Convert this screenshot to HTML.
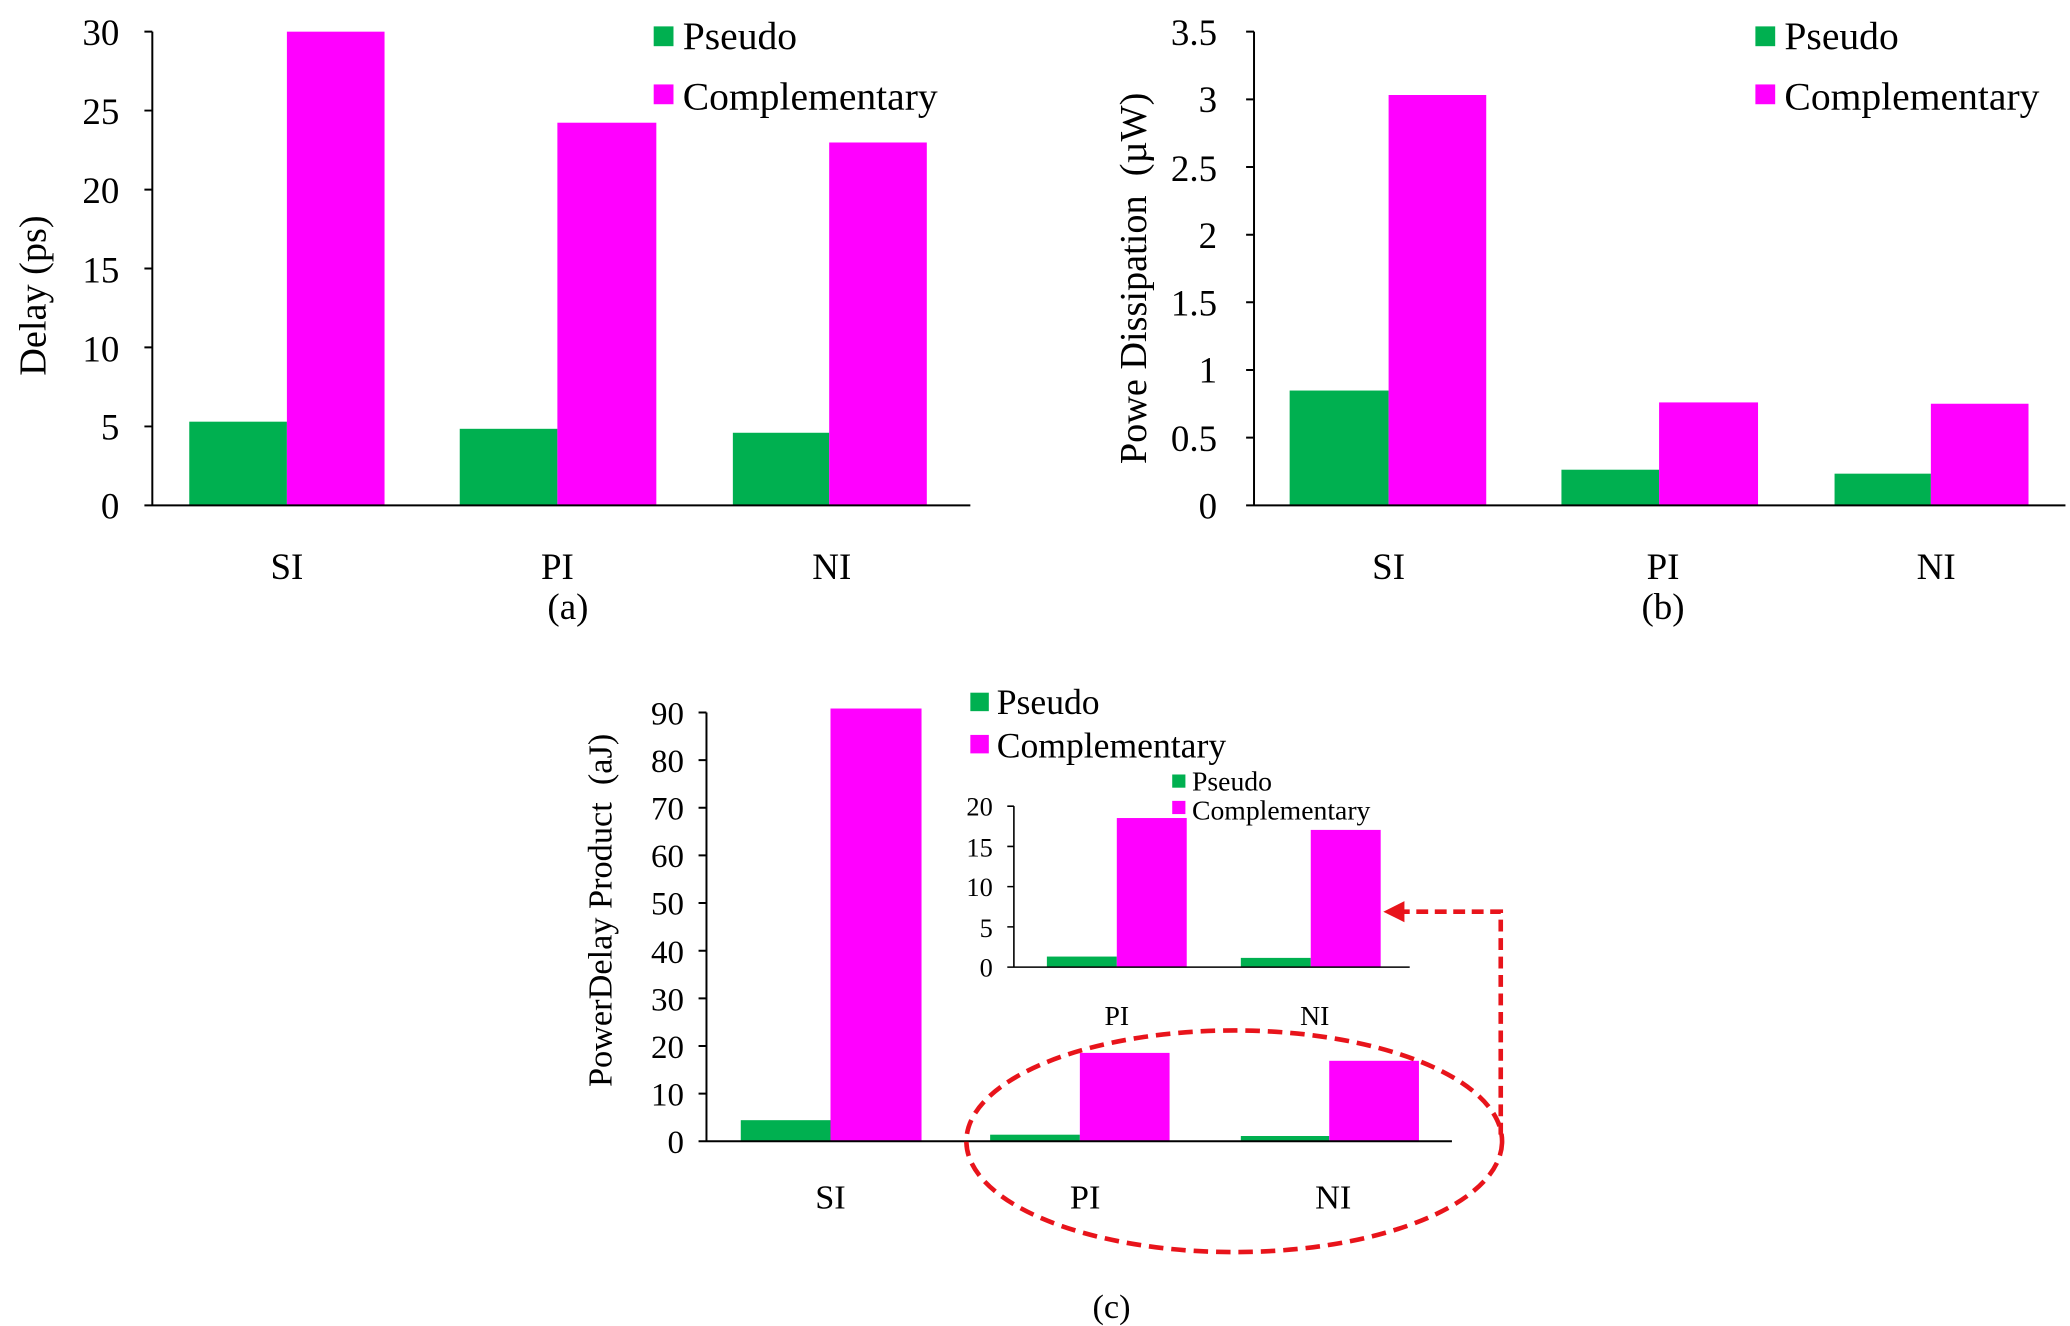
<!DOCTYPE html>
<html><head><meta charset="utf-8"><style>
html,body{margin:0;padding:0;background:#fff;width:2070px;height:1326px;overflow:hidden}
svg{display:block}
text{font-family:"Liberation Serif",serif;fill:#000}
</style></head><body>
<svg width="2070" height="1326" viewBox="0 0 1568 1005" xmlns="http://www.w3.org/2000/svg">
<!-- Chart a -->
<g>
<rect x="143" y="319.6" width="74" height="63.4" fill="#00b050"/>
<rect x="217" y="24" width="74" height="359" fill="#ff00ff"/>
<rect x="348" y="325" width="74" height="58" fill="#00b050"/>
<rect x="422" y="93" width="75" height="290" fill="#ff00ff"/>
<rect x="555" y="328" width="73" height="55" fill="#00b050"/>
<rect x="628" y="108" width="74" height="275" fill="#ff00ff"/>
<path d="M115 24V383H735M109 24H115M109 83.8H115M109 143.7H115M109 203.5H115M109 263.3H115M109 323.2H115M109 383H115" stroke="#000" stroke-width="1.5" fill="none"/>
<g font-size="28" text-anchor="end">
<text x="90" y="34">30</text><text x="90" y="94">25</text><text x="90" y="154">20</text><text x="90" y="214">15</text><text x="90" y="274">10</text><text x="90" y="333">5</text><text x="90" y="393">0</text></g>
<g font-size="28" text-anchor="middle"><text x="217" y="439">SI</text><text x="422" y="439">PI</text><text x="630" y="439">NI</text><text x="430" y="469">(a)</text></g>
<text font-size="29" text-anchor="middle" transform="translate(34,224) rotate(-90)">Delay (ps)</text>
<rect x="495" y="20" width="15" height="15" fill="#00b050"/><text x="517" y="37" font-size="30">Pseudo</text>
<rect x="495" y="64" width="15" height="15" fill="#ff00ff"/><text x="517" y="83" font-size="30">Complementary</text>
</g>
<!-- Chart b -->
<g>
<rect x="977" y="296" width="75" height="87" fill="#00b050"/>
<rect x="1052" y="72" width="74" height="311" fill="#ff00ff"/>
<rect x="1183" y="356" width="74" height="27" fill="#00b050"/>
<rect x="1257" y="305" width="75" height="78" fill="#ff00ff"/>
<rect x="1390" y="359" width="73" height="24" fill="#00b050"/>
<rect x="1463" y="306" width="74" height="77" fill="#ff00ff"/>
<path d="M950 24V383H1565M944 24H950M944 75.3H950M944 126.6H950M944 177.9H950M944 229.1H950M944 280.4H950M944 331.7H950M944 383H950" stroke="#000" stroke-width="1.5" fill="none"/>
<g font-size="28" text-anchor="end">
<text x="922" y="34">3.5</text><text x="922" y="85">3</text><text x="922" y="137">2.5</text><text x="922" y="188">2</text><text x="922" y="239">1.5</text><text x="922" y="290">1</text><text x="922" y="342">0.5</text><text x="922" y="393">0</text></g>
<g font-size="28" text-anchor="middle"><text x="1052" y="439">SI</text><text x="1260" y="439">PI</text><text x="1467" y="439">NI</text><text x="1260" y="469">(b)</text></g>
<text font-size="29" text-anchor="middle" transform="translate(868,211) rotate(-90)" xml:space="preserve">Powe Dissipation  (µW)</text>
<rect x="1330" y="20" width="15" height="15" fill="#00b050"/><text x="1352" y="37" font-size="30">Pseudo</text>
<rect x="1330" y="64" width="15" height="15" fill="#ff00ff"/><text x="1352" y="83" font-size="30">Complementary</text>
</g>
<!-- Chart c -->
<g>
<rect x="561" y="849" width="68" height="16" fill="#00b050"/>
<rect x="629" y="537" width="69" height="328" fill="#ff00ff"/>
<rect x="750" y="860" width="68" height="5" fill="#00b050"/>
<rect x="818" y="798" width="68" height="67" fill="#ff00ff"/>
<rect x="940" y="861" width="67" height="4" fill="#00b050"/>
<rect x="1007" y="804" width="68" height="61" fill="#ff00ff"/>
<path d="M535 540V865H1100M529 540H535M529 576.1H535M529 612.2H535M529 648.3H535M529 684.4H535M529 720.6H535M529 756.7H535M529 792.8H535M529 828.9H535M529 865H535" stroke="#000" stroke-width="1.5" fill="none"/>
<g font-size="25" text-anchor="end">
<text x="518" y="549">90</text><text x="518" y="585">80</text><text x="518" y="621">70</text><text x="518" y="657">60</text><text x="518" y="693">50</text><text x="518" y="730">40</text><text x="518" y="766">30</text><text x="518" y="802">20</text><text x="518" y="838">10</text><text x="518" y="874">0</text></g>
<g font-size="26" text-anchor="middle"><text x="629" y="916">SI</text><text x="822" y="916">PI</text><text x="1010" y="916">NI</text><text x="842" y="999">(c)</text></g>
<text font-size="26" text-anchor="middle" transform="translate(463,690) rotate(-90)" xml:space="preserve">PowerDelay Product  (aJ)</text>
<rect x="735" y="525" width="14" height="14" fill="#00b050"/><text x="755" y="541" font-size="27">Pseudo</text>
<rect x="735" y="557" width="14" height="14" fill="#ff00ff"/><text x="755" y="574" font-size="27">Complementary</text>
<!-- inset -->
<rect x="793" y="725" width="53" height="8" fill="#00b050"/>
<rect x="846" y="620" width="53" height="113" fill="#ff00ff"/>
<rect x="940" y="726" width="53" height="7" fill="#00b050"/>
<rect x="993" y="629" width="53" height="104" fill="#ff00ff"/>
<path d="M768 611V733H1068M763 611H768M763 641.5H768M763 672H768M763 702.5H768M763 733H768" stroke="#000" stroke-width="1.2" fill="none"/>
<g font-size="20" text-anchor="end"><text x="752" y="618">20</text><text x="752" y="649">15</text><text x="752" y="679">10</text><text x="752" y="710">5</text><text x="752" y="740">0</text></g>
<g font-size="21" text-anchor="middle"><text x="846" y="777">PI</text><text x="996" y="777">NI</text></g>
<rect x="888" y="587" width="10" height="10" fill="#00b050"/><text x="903" y="599" font-size="21">Pseudo</text>
<rect x="888" y="607" width="10" height="10" fill="#ff00ff"/><text x="903" y="621" font-size="21">Complementary</text>
<ellipse cx="935" cy="865" rx="203" ry="84" fill="none" stroke="#e8141b" stroke-width="3.5" stroke-dasharray="11,6"/>
<path d="M1137 860V691H1062" fill="none" stroke="#e8141b" stroke-width="3.5" stroke-dasharray="9,5"/>
<path d="M1048 691L1064 683L1064 699Z" fill="#e8141b"/>
</g>
</svg>
</body></html>
